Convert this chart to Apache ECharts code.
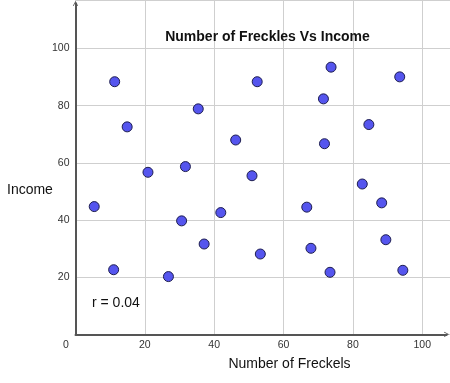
<!DOCTYPE html>
<html>
<head>
<meta charset="utf-8">
<script src="https://cdn.jsdelivr.net/npm/echarts@6/dist/echarts.min.js"></script>
<style>
html,body{margin:0;padding:0;background:#fff;}
#chart{width:450px;height:383px;}
</style>
</head>
<body>
<div id="chart"></div>
<script>
const chartTitle = 'Number of Freckles Vs Income';
const xAxisTitle = 'Number of Freckels';
const yAxisTitle = 'Income';
const annotation = 'r = 0.04';
const xTicks = [0, 20, 40, 60, 80, 100];
const yTicks = [20, 40, 60, 80, 100];
const freckles = [11.3, 14.9, 35.4, 20.9, 31.7, 52.4, 73.7, 93.5, 71.5, 46.2, 84.6, 71.8, 50.9, 82.7, 5.4, 30.6, 37.1, 41.9, 11.0, 26.8, 66.7, 88.3, 53.3, 67.9, 89.5, 73.4, 94.4];
const income   = [88.4, 72.6, 78.9, 56.7, 58.7, 88.4, 93.5, 90.1, 82.4, 68.0, 73.4, 66.7, 55.5, 52.6, 44.7, 39.7, 31.6, 42.6, 22.6, 20.2, 44.5, 46.0, 28.1, 30.1, 33.1, 21.7, 22.4];

const FONT = '"Liberation Sans", Arial, sans-serif';
const chart = echarts.init(document.getElementById('chart'), null, {renderer: 'canvas'});
const arrowPath = 'path://M0,9 L5,0 L10,9 L8.6,9.6 L5,3 L1.4,9.6 Z';

const option = {
  animation: false,
  backgroundColor: '#fff',
  grid: [
    {left: 75.5, right: -2.15, top: -1.5, bottom: 48.7, containLabel: false},
    {left: 75.5, right: 3.5, top: 3.5, bottom: 48.7, containLabel: false}
  ],
  xAxis: [
    {
      type: 'value', gridIndex: 0, min: 0, max: 108, interval: 20,
      axisLine: {show: false}, axisTick: {show: false},
      splitLine: {show: true, lineStyle: {color: '#cfcfcf', width: 1}},
      axisLabel: {
        show: true, margin: 5, color: '#333', fontSize: 10.5, fontFamily: FONT,
        showMaxLabel: false,
        formatter: function (v) {
          if (v === 0) return '{z|0}';
          return xTicks.indexOf(v) >= 0 ? String(v) : '';
        },
        rich: {z: {padding: [0, 19, 0, 0], color: '#333', fontSize: 10.5, fontFamily: FONT}}
      }
    },
    {
      type: 'value', gridIndex: 1, min: 0, max: 1,
      axisLine: {show: true, symbol: ['none', arrowPath], symbolSize: [8, 5], lineStyle: {color: '#555', width: 2}},
      axisTick: {show: false}, axisLabel: {show: false}, splitLine: {show: false}
    }
  ],
  yAxis: [
    {
      type: 'value', gridIndex: 0, min: 0, max: 117, interval: 20,
      axisLine: {show: false}, axisTick: {show: false},
      splitLine: {show: true, lineStyle: {color: '#cfcfcf', width: 1}},
      axisLabel: {
        show: true, margin: 6, color: '#333', fontSize: 10.5, fontFamily: FONT,
        showMaxLabel: false,
        formatter: function (v) { return yTicks.indexOf(v) >= 0 ? String(v) : ''; }
      }
    },
    {
      type: 'value', gridIndex: 1, min: 0, max: 1,
      axisLine: {show: true, symbol: ['none', arrowPath], symbolSize: [8, 5], lineStyle: {color: '#555', width: 2}},
      axisTick: {show: false}, axisLabel: {show: false}, splitLine: {show: false}
    }
  ],
  graphic: [
    {type: 'text', z: 100, style: {text: chartTitle, x: 267.5, y: 37.5, textAlign: 'center', textVerticalAlign: 'middle', font: 'bold 14px ' + FONT, fill: '#111'}},
    {type: 'text', z: 100, style: {text: yAxisTitle, x: 7, y: 190.5, textAlign: 'left', textVerticalAlign: 'middle', font: '14px ' + FONT, fill: '#111'}},
    {type: 'text', z: 100, style: {text: xAxisTitle, x: 289.5, y: 364, textAlign: 'center', textVerticalAlign: 'middle', font: '14px ' + FONT, fill: '#111'}},
    {type: 'text', z: 100, style: {text: annotation, x: 92, y: 303.5, textAlign: 'left', textVerticalAlign: 'middle', font: '14px ' + FONT, fill: '#111'}}
  ],
  series: [{
    type: 'scatter', xAxisIndex: 0, yAxisIndex: 0,
    data: freckles.map((x, i) => [x, income[i]]),
    symbol: 'circle', symbolSize: 10,
    itemStyle: {color: '#5555ee', borderColor: '#1e1e50', borderWidth: 1, opacity: 1},
    z: 10
  }]
};
chart.setOption(option);
</script>
</body>
</html>
